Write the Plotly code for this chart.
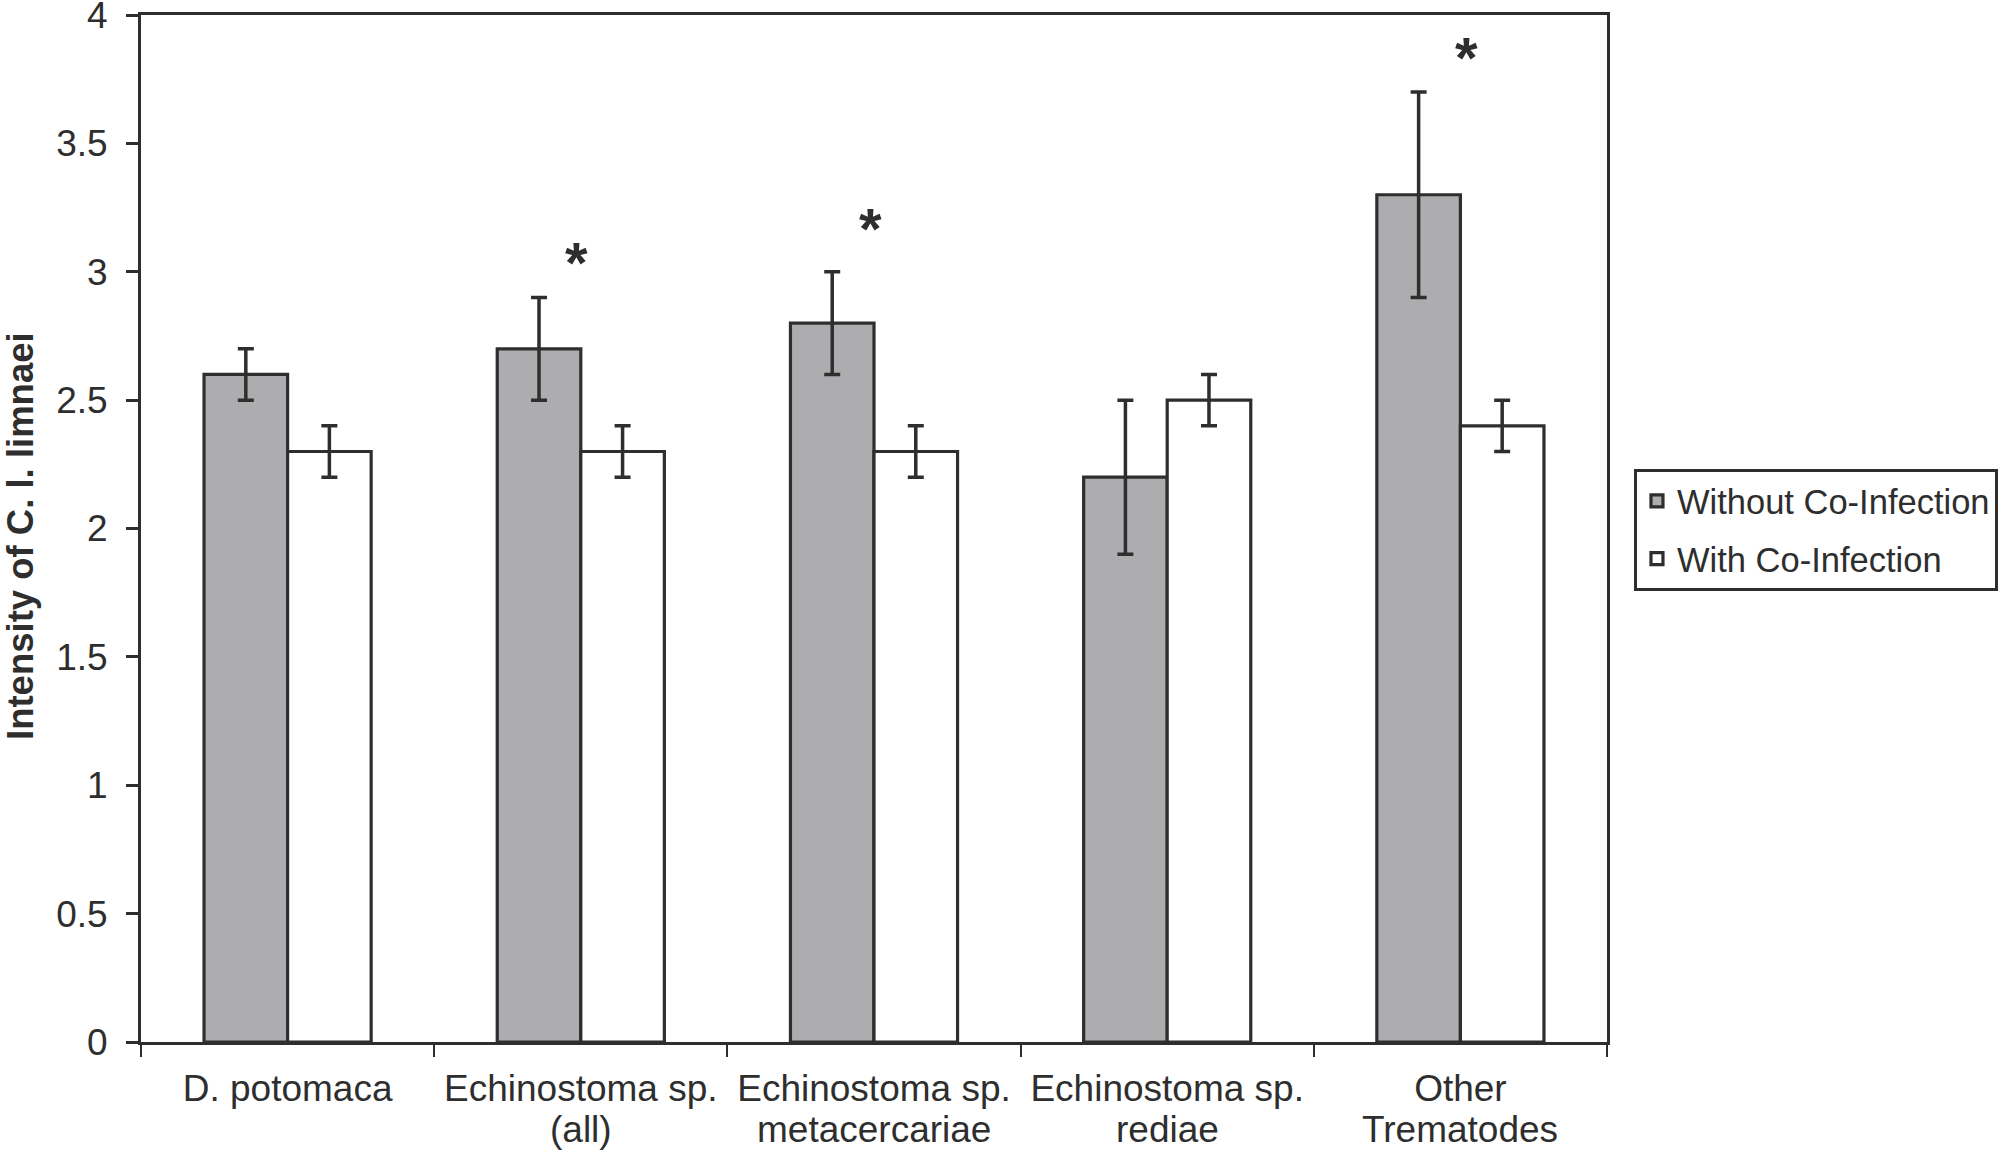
import plotly.graph_objects as go

categories = ["D. potomaca", "Echinostoma sp. (all)", "Echinostoma sp. metacercariae",
              "Echinostoma sp. rediae", "Other Trematodes"]
tick_line1 = ["D. potomaca", "Echinostoma sp.", "Echinostoma sp.", "Echinostoma sp.", "Other"]
tick_line2 = ["", "(all)", "metacercariae", "rediae", "Trematodes"]
without_vals = [2.6, 2.7, 2.8, 2.2, 3.3]
without_err = [0.1, 0.2, 0.2, 0.3, 0.4]
with_vals = [2.3, 2.3, 2.3, 2.5, 2.4]
with_err = [0.1, 0.1, 0.1, 0.1, 0.1]
star_cats = [categories[1], categories[2], categories[4]]
star_y = [3.07, 3.205, 3.87]
star_dx = [-4, -4, 6]
y_ticks = [0, 0.5, 1, 1.5, 2, 2.5, 3, 3.5, 4]
y_tick_text = ["0", "0.5", "1", "1.5", "2", "2.5", "3", "3.5", "4"]

INK = "#2e2e2e"
FONT = "Liberation Sans, Arial, sans-serif"

fig = go.Figure()
fig.add_trace(go.Bar(
    name="Without Co-Infection", x=categories, y=without_vals,
    marker=dict(color="#ADADAF", line=dict(color=INK, width=3.2)),
    error_y=dict(type="data", array=without_err, color=INK, thickness=3.5, width=8),
    legendgroup="a",
))
fig.add_trace(go.Bar(
    name="With Co-Infection", x=categories, y=with_vals,
    marker=dict(color="#FFFFFF", line=dict(color=INK, width=3.2)),
    error_y=dict(type="data", array=with_err, color=INK, thickness=3.5, width=8),
    legendgroup="b",
))

for c, yv, dx in zip(star_cats, star_y, star_dx):
    fig.add_annotation(x=c, y=yv, text="<b>*</b>", showarrow=False, xshift=dx, yshift=-9,
                       font=dict(size=58, color=INK, family=FONT), yanchor="middle")

# second lines of the category labels
for c, t in zip(categories, tick_line2):
    if t:
        fig.add_annotation(x=c, xref="x", yref="paper", y=0, yshift=-87, text=t,
                           showarrow=False, yanchor="middle",
                           font=dict(size=37, color=INK, family=FONT))

fig.add_annotation(xref="paper", yref="paper", x=0, y=0.4927, xshift=-120, textangle=-90,
                   text="<b>Intensity of C. l. limnaei</b>", showarrow=False,
                   font=dict(size=36.5, color=INK, family=FONT), xanchor="center", yanchor="middle")

fig.update_layout(
    width=2014, height=1151,
    margin=dict(l=141, r=407, t=15, b=109, autoexpand=False),
    paper_bgcolor="white", plot_bgcolor="white",
    barmode="group", bargap=0.43, bargroupgap=0,
    font=dict(family=FONT, color=INK, size=37),
    showlegend=True,
    legend=dict(x=1.0184, xanchor="left", y=0.558, yanchor="top",
                bordercolor=INK, borderwidth=3, bgcolor="white",
                font=dict(size=34.5, color=INK, family=FONT),
                tracegroupgap=10, itemwidth=30),
)
fig.update_xaxes(
    showline=True, linecolor=INK, linewidth=3, mirror=True,
    ticks="outside", tickson="boundaries", ticklen=12, tickwidth=2, tickcolor=INK,
    showgrid=False, tickfont=dict(size=37, color=INK, family=FONT),
    tickmode="array", tickvals=categories, ticktext=tick_line1,
    ticklabelstandoff=12, ticklabeloverflow="allow",
)
fig.update_yaxes(
    range=[0, 4], tickvals=y_ticks, ticktext=y_tick_text,
    showline=True, linecolor=INK, linewidth=3, mirror=True,
    ticks="outside", ticklen=12, tickwidth=3, tickcolor=INK,
    showgrid=False, zeroline=False, tickfont=dict(size=37, color=INK, family=FONT),
    ticklabelstandoff=11, ticklabeloverflow="allow",
)

fig.write_html("out.html")
